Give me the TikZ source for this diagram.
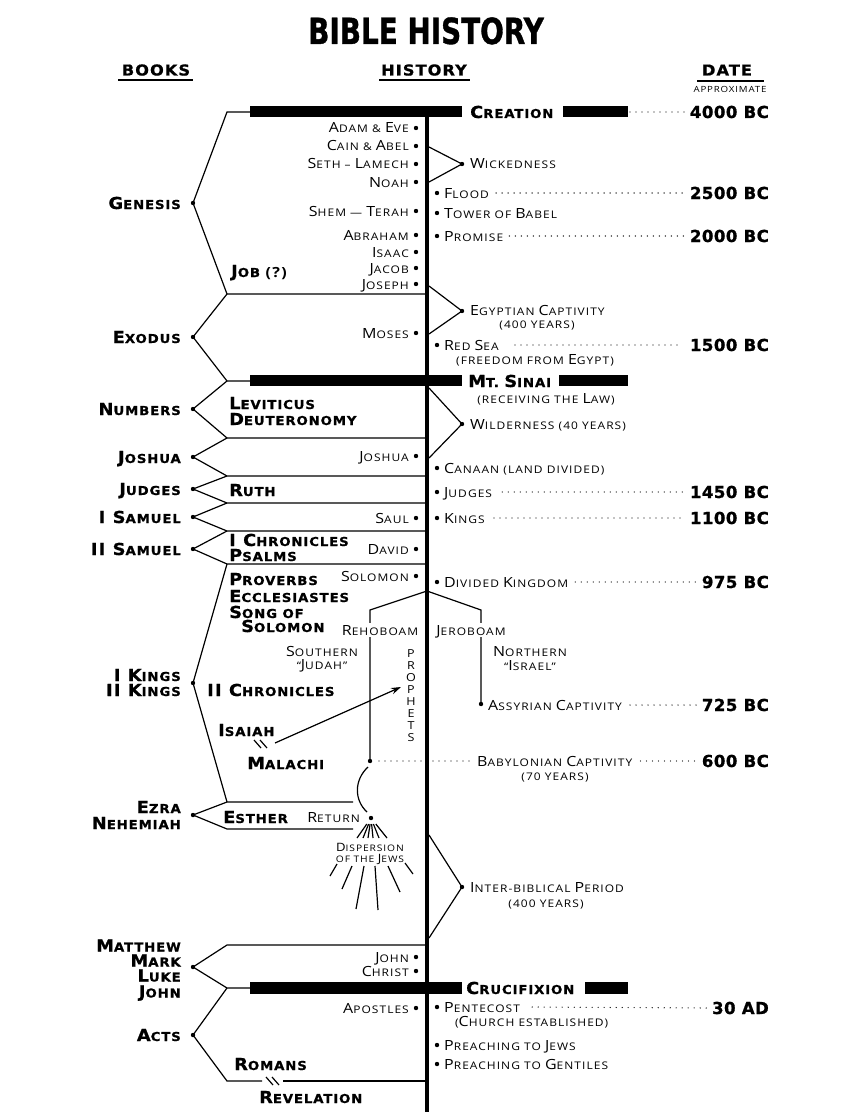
\documentclass[tikz,border=0pt]{standalone}
\usepackage{fontspec}
\usetikzlibrary{arrows.meta,calc}
\newfontfamily\myltf{Open Sans}[LetterSpace=10,FakeStretch=1.14]
\newfontfamily\myhvf{DejaVu Sans}[LetterSpace=7,FakeStretch=1.08,BoldFeatures={FakeBold=0.8}]
\newfontfamily\mydtf{DejaVu Sans}[LetterSpace=3,BoldFeatures={FakeBold=1}]
\newfontfamily\mytff{DejaVu Sans Condensed}[BoldFeatures={FakeBold=1}]
\newcommand\mylb{\myltf\fontsize{10.5}{12}\selectfont}
\newcommand\lc[1]{{\fontsize{14}{14}\selectfont #1}}
\newcommand\myhb{\myhvf\bfseries\fontsize{12.3}{14}\selectfont}
\newcommand\hc[1]{{\fontsize{16.5}{16}\selectfont #1}}
\newcommand\mydb{\mydtf\bfseries\fontsize{16.5}{17}\selectfont}
\newcommand\mysm{\myltf\fontsize{8.5}{10}\selectfont}
\newcommand\mydc[1]{{\fontsize{11.5}{12}\selectfont #1}}
\begin{document}
\begin{tikzpicture}[x=1pt,y=-1pt,
  every node/.style={inner sep=0pt},
  lt/.style={font=\mylb, text height=10pt, text depth=0pt},
  hv/.style={font=\myhb, text height=12pt, text depth=0pt},
  dt/.style={font=\mydb, text height=12pt, text depth=0pt, anchor=east},
  hd/.style={font=\myhvf\bfseries\fontsize{15}{15}\selectfont, text height=11pt, text depth=0pt},
  pt/.style={circle, fill, inner sep=0pt, minimum size=4.4pt},
  dotline/.style={line width=1.3pt, line cap=round, dash pattern=on 0pt off 6pt},
  ln/.style={line width=1.2pt},
  wl/.style={fill=white, inner xsep=1pt, inner ysep=2pt}]
\useasboundingbox[fill=white] (0,0) rectangle (853,1118);

% ---------- headers
\node[font=\mytff\bfseries\fontsize{36}{36}\selectfont, text height=26pt, text depth=0pt] (title) at (426,31) {\scalebox{0.86}[1]{BIBLE HISTORY}};
\node[hd] (hbooks) at (156,70) {BOOKS};
\node[hd] (hhist) at (424,70) {HISTORY};
\node[hd] (hdate) at (727,70) {DATE};
\node[font=\mysm, text height=7pt, text depth=0pt] (happr) at (730,89) {APPROXIMATE};
\draw[ln] (118,80) -- (193,80);
\draw[ln] (379,80) -- (470,80);
\draw[ln] (697,81) -- (764,81);

% ---------- main timeline
\coordinate (mtop) at (427,112);
\coordinate (mbot) at (427,1112);
\draw[line width=4pt] (mtop) -- (mbot);

% thick bars
\fill (250,106) rectangle (462,117);
\fill (563,106) rectangle (628,117);
\fill (250,375) rectangle (462,386);
\fill (559,375) rectangle (628,386);
\fill (250,982) rectangle (462,994);
\fill (585,982) rectangle (628,994);
\coordinate (crE) at (630,112);
\node[hv,anchor=west] (creation) at (470,112) {\hc{C}REATION};
\node[hv,anchor=west] (sinai) at (468,381) {\hc{M}T. \hc{S}INAI};
\node[hv,anchor=west] (cruc) at (466,988) {\hc{C}RUCIFIXION};
\node[lt] (recv) at (546,398) {(RECEIVING THE \lc{L}AW)};

% ---------- book dots and junctions
\foreach \n/\yy in {gen/203,exo/337,num/409,jos/457,jud/489,sa1/517,sa2/549,kin/683,ezr/815,gos/967,act/1035}
  \node[pt] (d\n) at (193,\yy) {};
\foreach \yy in {112,294,381,438,476,503,531,564,802,829,945,988,1081}
  \coordinate (j\yy) at (227,\yy);
\foreach \yy in {294,438,476,503,531,564,945,1081}
  \coordinate (m\yy) at (427,\yy);

\draw[ln] (250,112) -- (j112) -- (dgen.center) -- (j294) -- (m294);
\draw[ln] (j294) -- (dexo.center) -- (j381) -- (250,381);
\draw[ln] (j381) -- (dnum.center) -- (j438) -- (m438);
\draw[ln] (j438) -- (djos.center) -- (j476) -- (m476);
\draw[ln] (j476) -- (djud.center) -- (j503) -- (m503);
\draw[ln] (j503) -- (dsa1.center) -- (j531) -- (m531);
\draw[ln] (j531) -- (dsa2.center) -- (j564) -- (m564);
\draw[ln] (j564) -- (dkin.center) -- (j802) -- (353,802);
\draw[ln] (j802) -- (dezr.center) -- (j829) -- (353,829);
\draw[ln] (m945) -- (j945) -- (dgos.center) -- (j988) -- (250,988);
\draw[ln] (j988) -- (dact.center) -- (j1081) -- (262,1081);
\draw[ln] (283,1081) -- (m1081);
\draw[ln] (266,1077) -- (273,1085);
\draw[ln] (272,1077) -- (279,1085);

% ---------- book names
\node[hv,anchor=east] (bgen) at (181,203) {\hc{G}ENESIS};
\node[hv,anchor=east] (bexo) at (181,337) {\hc{E}XODUS};
\node[hv,anchor=east] (bnum) at (181,409) {\hc{N}UMBERS};
\node[hv,anchor=east] (bjos) at (181,457) {\hc{J}OSHUA};
\node[hv,anchor=east] (bjud) at (181,489) {\hc{J}UDGES};
\node[hv,anchor=east] (bsa1) at (181,517) {\hc{I S}AMUEL};
\node[hv,anchor=east] (bsa2) at (181,549) {\hc{II S}AMUEL};
\node[hv,anchor=east] (bki1) at (181,675) {\hc{I K}INGS};
\node[hv,anchor=east] (bki2) at (181,690) {\hc{II K}INGS};
\node[hv,anchor=east] (bezr) at (181,807) {\hc{E}ZRA};
\node[hv,anchor=east] (bneh) at (181,823) {\hc{N}EHEMIAH};
\node[hv,anchor=east,text height=11pt] (bmat) at (181,946) {\hc{M}ATTHEW};
\node[hv,anchor=east,text height=11pt] (bmar) at (181,961) {\hc{M}ARK};
\node[hv,anchor=east,text height=11pt] (bluk) at (181,976) {\hc{L}UKE};
\node[hv,anchor=east,text height=11pt] (bjoh) at (181,992) {\hc{J}OHN};
\node[hv,anchor=east] (bact) at (181,1035) {\hc{A}CTS};

% middle books
\node[hv,anchor=west] (bjob) at (231,271) {\hc{J}OB {\mylb\lc{(?)}}};
\node[hv,anchor=west] (blev) at (229,403) {\hc{L}EVITICUS};
\node[hv,anchor=west] (bdeu) at (229,419) {\hc{D}EUTERONOMY};
\node[hv,anchor=west] (brut) at (229,490) {\hc{R}UTH};
\node[hv,anchor=west] (bch1) at (229,540) {\hc{I C}HRONICLES};
\node[hv,anchor=west] (bpsa) at (229,555) {\hc{P}SALMS};
\node[hv,anchor=west] (bpro) at (229,579) {\hc{P}ROVERBS};
\node[hv,anchor=west] (becc) at (229,596) {\hc{E}CCLESIASTES};
\node[hv,anchor=west] (bson) at (229,612) {\hc{S}ONG OF};
\node[hv,anchor=west] (bsol) at (241,626) {\hc{S}OLOMON};
\node[hv,anchor=west] (bch2) at (207,690) {\hc{II C}HRONICLES};
\node[hv,anchor=west] (bisa) at (218,730) {\hc{I}SAIAH};
\node[hv,anchor=west] (bmal) at (247,763) {\hc{M}ALACHI};
\node[hv,anchor=west] (best) at (223,817) {\hc{E}STHER};
\node[hv,anchor=west] (brom) at (234,1064) {\hc{R}OMANS};
\node[hv,anchor=west] (brev) at (259,1097) {\hc{R}EVELATION};
\draw[ln] (254,740) -- (261,748);
\draw[ln] (260,740) -- (267,748);

% ---------- people (left of timeline)
\foreach \n/\yy/\t in {
  adam/128/{\lc{A}DAM \& \lc{E}VE},
  cain/146/{\lc{C}AIN \& \lc{A}BEL},
  seth/164/{\lc{S}ETH – \lc{L}AMECH},
  noah/182/{\lc{N}OAH},
  shem/211/{\lc{S}HEM — \lc{T}ERAH},
  abra/235/{\lc{A}BRAHAM},
  isaa/252/{\lc{I}SAAC},
  jaco/268/{\lc{J}ACOB},
  jose/284/{\lc{J}OSEPH},
  mose/333/{\lc{M}OSES},
  josh/456/{\lc{J}OSHUA},
  saul/518/{\lc{S}AUL},
  davi/549/{\lc{D}AVID},
  solo/576/{\lc{S}OLOMON},
  john/957/{\lc{J}OHN},
  chri/971/{\lc{C}HRIST},
  apos/1008/{\lc{A}POSTLES}}
{
  \node[lt,anchor=east] (p\n) at (409,\yy) {\t};
  \node[pt] (q\n) at (416,\yy) {};
}

% ---------- events (right of timeline)
\foreach \n/\yy/\t in {
  flood/193/{\lc{F}LOOD},
  babel/213/{\lc{T}OWER OF \lc{B}ABEL},
  prom/236/{\lc{P}ROMISE},
  red/345/{\lc{R}ED \lc{S}EA},
  cana/468/{\lc{C}ANAAN (LAND DIVIDED)},
  judg/492/{\lc{J}UDGES},
  king/518/{\lc{K}INGS},
  divi/582/{\lc{D}IVIDED \lc{K}INGDOM},
  pent/1007/{\lc{P}ENTECOST},
  prj/1045/{\lc{P}REACHING TO \lc{J}EWS},
  prg/1064/{\lc{P}REACHING TO \lc{G}ENTILES}}
{
  \node[pt] (e\n) at (437,\yy) {};
  \node[lt,anchor=west] (r\n) at (444,\yy) {\t};
}
\node[lt,anchor=west] (rred2) at (456,359) {(FREEDOM FROM \lc{E}GYPT)};
\node[lt,anchor=west] (rpent2) at (455,1021) {(\lc{C}HURCH ESTABLISHED)};

% bracket events
\foreach \n/\ya/\yb/\yc in {wick/147/164/182, egy/286/311/334, wild/388/424/458, inter/835/887/938}
{
  \node[pt] (g\n) at (462,\yb) {};
  \coordinate (ga\n) at (429,\ya);
  \coordinate (gb\n) at (429,\yc);
  \draw[ln] (ga\n) -- (g\n.center) -- (gb\n);
}
\node[lt,anchor=west] (rwick) at (470,164) {\lc{W}ICKEDNESS};
\node[lt,anchor=west] (regy) at (470,310) {\lc{E}GYPTIAN \lc{C}APTIVITY};
\node[lt] (regy2) at (537,323) {(400 YEARS)};
\node[lt,anchor=west] (rwild) at (470,424) {\lc{W}ILDERNESS (40 YEARS)};
\node[lt,anchor=west] (rinter) at (470,887) {\lc{I}NTER-BIBLICAL \lc{P}ERIOD};
\node[lt] (rinter2) at (546,902) {(400 YEARS)};

% ---------- dates
\node[dt] (d4000) at (769,112) {4000 BC};
\node[dt] (d2500) at (769,193) {2500 BC};
\node[dt] (d2000) at (769,236) {2000 BC};
\node[dt] (d1500) at (769,345) {1500 BC};
\node[dt] (d1450) at (769,492) {1450 BC};
\node[dt] (d1100) at (769,518) {1100 BC};
\node[dt] (d975) at (769,582) {975 BC};
\node[dt] (d725) at (769,705) {725 BC};
\node[dt] (d600) at (769,761) {600 BC};
\node[dt] (d30) at (769,1008) {30 AD};

\draw[dotline] (crE) -- ([xshift=-5pt]d4000.west);
\draw[dotline] ([xshift=7pt]rflood.east) -- ([xshift=-5pt]d2500.west);
\draw[dotline] ([xshift=6pt]rprom.east) -- ([xshift=-5pt]d2000.west);
\draw[dotline] ([xshift=16pt]rred.east) -- ([xshift=-8pt]d1500.west);
\draw[dotline] ([xshift=10pt]rjudg.east) -- ([xshift=-5pt]d1450.west);
\draw[dotline] ([xshift=9pt]rking.east) -- ([xshift=-5pt]d1100.west);
\draw[dotline] ([xshift=7pt]rdivi.east) -- ([xshift=-5pt]d975.west);
\draw[dotline] ([xshift=12pt]rpent.east) -- ([xshift=-5pt]d30.west);

% ---------- divided kingdom
\coordinate (fork) at (427,591);
\coordinate (fl) at (370,610);
\coordinate (fr) at (481,610);
\node[pt] (dbab) at (370,761) {};
\node[pt] (dass) at (481,704) {};
\draw[ln] (fork) -- (fl) -- (dbab.center);
\draw[ln] (fork) -- (fr) -- (dass.center);
\node[lt,wl] (rehob) at (380,630) {\lc{R}EHOBOAM};
\node[lt,wl] (jerob) at (471,630) {\lc{J}EROBOAM};
\node[lt] (south1) at (322,651) {\lc{S}OUTHERN};
\node[lt] (south2) at (322,664) {“\lc{J}UDAH”};
\node[lt] (north1) at (530,651) {\lc{N}ORTHERN};
\node[lt] (north2) at (530,665) {“\lc{I}SRAEL”};
\node[lt,anchor=west] (rass) at (488,705) {\lc{A}SSYRIAN \lc{C}APTIVITY};
\draw[dotline] ([xshift=8pt]rass.east) -- ([xshift=-5pt]d725.west);
\foreach \l [count=\i] in {P,R,O,P,H,E,T,S}
  \node[font=\myltf\fontsize{11}{11}\selectfont, text height=8pt, text depth=0pt] (pr\i) at (411,641+12*\i) {\l};

% Isaiah arrow
\coordinate (arS) at (275,743);
\coordinate (arE) at (401,687);
\draw[ln,-{Stealth[length=10pt,width=6.5pt]}] (arS) -- (arE);

% Babylonian captivity
\node[lt,anchor=west] (rbab) at (477,761) {\lc{B}ABYLONIAN \lc{C}APTIVITY};
\node[lt] (rbab2) at (555,775) {(70 YEARS)};
\draw[dotline] ([xshift=9pt]dbab.center) -- ([xshift=-5pt]rbab.west);
\draw[dotline] ([xshift=8pt]rbab.east) -- ([xshift=-6pt]d600.west);

% return and dispersion
\node[pt] (dret) at (371,818) {};
\node[lt,anchor=east] (rret) at (360,817) {\lc{R}ETURN};
\draw[ln] (368,767) .. controls (354,780) and (354,800) .. (367,812);
\foreach \ex in {357,363,368,373,379,387}
  \draw[ln] ($(dret.center)!0.3!(\ex,838)$) -- (\ex,838);
\node[font=\myltf\fontsize{9}{10}\selectfont, text height=8pt, text depth=0pt] (disp1) at (370,847) {\mydc{D}ISPERSION};
\node[font=\myltf\fontsize{9}{10}\selectfont, text height=8pt, text depth=0pt] (disp2) at (370,858) {OF THE \mydc{J}EWS};
\draw[ln] (337,864) -- (330,876);
\draw[ln] (352,866) -- (342,889);
\draw[ln] (364,866) -- (356,909);
\draw[ln] (375,866) -- (378,910);
\draw[ln] (388,866) -- (400,892);
\draw[ln] (405,863) -- (413,874);
\end{tikzpicture}
\end{document}
